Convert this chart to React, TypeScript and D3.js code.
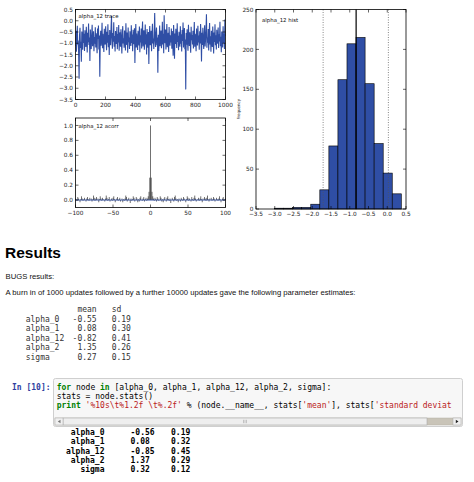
import React from "react";
import * as d3 from "d3";

// alpha_12 posterior samples (every 3rd iteration of 1000)
const traceValues = [
  -1.12, -0.45, -1.38, -0.71, -0.22, -1.05, -0.88, -1.47, -2.58, -0.64,
  -0.31, -1.21, -0.93, -1.82, -0.48, -0.77, -1.29, -0.15, -0.99, -0.58,
  -1.34, -0.42, -0.86, -1.17, -0.27, -0.69, -1.41, -0.53, -0.95, -0.12,
  -1.08, -0.74, -1.79, -0.39, -0.91, -1.26, -0.61, -0.18, -1.13, -0.83,
  -0.47, -1.36, -0.72, -1.02, -0.29, -1.19, -0.56, -0.97, -1.44, -0.34,
  -0.81, -0.21, -1.28, -0.66, -2.49, -0.89, -0.44, -1.11, -0.76, -0.09,
  -1.22, -0.58, -0.94, -1.39, -0.36, -0.84, -1.06, -0.25, -0.71, -1.31,
  -0.49, -0.98, -0.16, -1.18, -0.63, -1.52, -0.41, -0.87, -1.09, -0.32,
  0.21, -0.79, -1.24, -0.55, -0.93, -0.07, -1.15, -0.68, -1.37, -0.46,
  -0.85, -1.03, -0.28, -1.27, -0.59, -0.96, -0.19, -1.33, -0.73, -0.51,
  -1.16, -0.38, -0.9, -1.46, -0.62, -0.24, -1.01, -0.78, -1.2, -0.43,
  -0.67, -1.32, -0.11, -0.88, -1.07, -0.52, -1.42, -0.3, -0.95, -0.74,
  -1.25, -0.47, -0.82, -1.12, -0.2, -0.99, -0.61, -1.35, -0.4, -0.86,
  -1.04, -0.33, -1.88, -0.7, -0.14, -1.19, -0.57, -0.92, -1.3, -0.45,
  -0.8, -1.1, -0.26, -1.4, -0.65, -0.97, -0.35, -1.23, -0.54, -0.03,
  -1.14, -0.76, -0.42, -1.29, -0.89, -0.17, -1.05, -0.6, -1.5, -0.37,
  -0.83, -1.2, -0.5, -1.92, -0.72, -0.23, -1.08, -0.94, -0.44, -1.36,
  -0.66, -0.13, -1.01, -0.79, -1.26, -0.48, 0.34, -0.91, -1.17, -0.56,
  -0.3, -1.09, -0.75, -2.31, -0.62, -1.34, -0.87, -0.21, -1.13, -0.69,
  -0.43, -1.22, -0.96, -0.05, -1.06, -0.58, -1.44, 0.24, -0.85, -1.0,
  -0.39, -1.28, -0.71, -0.15, -1.18, -0.92, -0.53, -1.39, -0.28, -0.81,
  -1.11, -0.64, -0.97, -0.34, -1.24, -0.46, -0.88, -1.55, -0.19, -0.73,
  -1.69, -0.57, -1.03, -0.36, -0.86, -1.21, -0.11, -0.94, -0.67, -1.31,
  -0.49, -0.78, -1.15, -0.25, -1.02, -0.6, -1.37, -0.41, -0.9, -0.08,
  -1.19, -0.7, -0.32, -1.27, -0.83, -3.05, -0.55, -1.07, -0.38, -0.95,
  -1.33, -0.18, -0.76, -1.12, -0.51, -0.99, -1.42, -0.27, -0.87, -0.63,
  -1.05, -0.44, -1.23, -0.72, -0.06, -1.16, -0.58, -0.91, -1.35, -0.35,
  -0.8, -1.1, -0.22, -0.97, -0.66, -1.29, -0.47, -1.01, -0.14, -0.77,
  -1.81, -0.53, -1.08, -0.31, -0.9, -1.25, -0.6, -0.2, -1.14, -0.84,
  -0.42, 0.29, -1.2, -0.74, -0.98, -0.37, -1.32, -0.56, -0.1, -1.06,
  -0.69, -1.38, -0.45, -0.88, -1.17, -0.26, -0.79, -1.46, -0.52, -0.94,
  -0.16, -1.09, -0.65, -1.28, -0.4, -0.85, -1.02, -0.3, -1.21, -0.6,
  -0.92, -0.04, -1.13, -0.71, -1.4, -0.48, -0.82, -1.19, -0.24, -0.99,
  -0.57, -1.26, 0.05, -0.68,
];
const traceStep = 3;

// autocorrelation for lags 1..100 (the plot mirrors them for negative lags)
const acorrLag0 = 1.0;
const acorrLags = [
  0.3, 0.11, 0.05, 0.02, -0.01, 0.03, 0.01, -0.02, 0.04, 0.02,
  -0.01, 0.0, 0.05, 0.03, -0.02, 0.01, -0.03, 0.02, 0.04, 0.0,
  -0.02, 0.03, 0.05, 0.01, -0.01, 0.02, -0.04, 0.0, 0.03, 0.01,
  -0.02, 0.04, 0.06, 0.02, -0.01, 0.01, -0.03, 0.02, 0.0, -0.02,
  0.03, 0.01, -0.01, 0.04, 0.02, 0.0, -0.03, 0.01, 0.05, 0.03,
  -0.01, 0.02, 0.0, -0.02, 0.04, 0.01, -0.01, 0.03, 0.06, 0.02,
  -0.02, 0.0, 0.01, 0.03, -0.01, 0.02, 0.05, 0.01, -0.03, 0.02,
  0.0, 0.04, 0.02, -0.01, 0.03, 0.06, 0.01, -0.02, 0.02, 0.0,
  0.03, -0.01, 0.01, 0.04, 0.02, -0.02, 0.0, 0.03, 0.01, -0.01,
  0.02, 0.05, 0.01, -0.03, 0.0, 0.02, 0.04, -0.01, 0.01, 0.02,
];

// histogram of alpha_12
const histCounts = [1, 1, 2, 2, 6, 24, 79, 162, 207, 215, 157, 82, 45, 19];
const histStart = -3.005;
const histBinWidth = 0.2414;
const posteriorMean = -0.83;
const intervalBounds = [-1.71, 0.03];

// tick values
const traceXTicks = [0, 200, 400, 600, 800, 1000];
const traceYTicks = [0.5, 0, -0.5, -1, -1.5, -2, -2.5, -3, -3.5];
const acorrXTicks = [-100, -50, 0, 50, 100];
const acorrYTicks = [0, 0.2, 0.4, 0.6, 0.8, 1.0];
const histXTicks = [-3.5, -3, -2.5, -2, -1.5, -1, -0.5, 0, 0.5];
const histYTicks = [0, 50, 100, 150, 200, 250];

// BUGS summary table
const bugsNames = ["alpha_0", "alpha_1", "alpha_12", "alpha_2", "sigma"];
const bugsMeans = [-0.55, 0.08, -0.82, 1.35, 0.27];
const bugsSds = [0.19, 0.3, 0.41, 0.26, 0.15];

// PyMC summary output
const pymcNames = ["alpha_0", "alpha_1", "alpha_12", "alpha_2", "sigma"];
const pymcMeans = [-0.56, 0.08, -0.85, 1.37, 0.32];
const pymcSds = [0.19, 0.32, 0.45, 0.29, 0.12];

const TICK_FONT = "DejaVu Sans";
const SANS = "Liberation Sans, Arial, sans-serif";
const MONO = "DejaVu Sans Mono, monospace";
const BLUE = "#2f4ea5";

type Scale = d3.ScaleLinear<number, number>;

function Frame({ x, y, xTicks, yTicks, xFmt, yFmt }: {
  x: Scale; y: Scale; xTicks: number[]; yTicks: number[];
  xFmt: (v: number) => string; yFmt: (v: number) => string;
}) {
  const [x0, x1] = x.range();
  const [y0, y1] = y.range();
  const tl = 3;
  return (
    <g fontFamily={TICK_FONT} fontSize={5.8} fill="#222">
      {xTicks.map((t) => (
        <g key={"x" + t}>
          <line x1={x(t)} x2={x(t)} y1={y0} y2={y0 - tl} stroke="#000" strokeWidth={0.6} />
          <line x1={x(t)} x2={x(t)} y1={y1} y2={y1 + tl} stroke="#000" strokeWidth={0.6} />
          <text x={x(t)} y={y0 + 7.2} textAnchor="middle">{xFmt(t)}</text>
        </g>
      ))}
      {yTicks.map((t) => (
        <g key={"y" + t}>
          <line x1={x0} x2={x0 + tl} y1={y(t)} y2={y(t)} stroke="#000" strokeWidth={0.6} />
          <line x1={x1} x2={x1 - tl} y1={y(t)} y2={y(t)} stroke="#000" strokeWidth={0.6} />
          <text x={x0 - 2.5} y={y(t) + 2.1} textAnchor="end">{yFmt(t)}</text>
        </g>
      ))}
      <rect x={x0} y={y1} width={x1 - x0} height={y0 - y1} fill="none" stroke="#000" strokeWidth={0.8} />
    </g>
  );
}

export default function App() {
  // trace panel
  const tx = d3.scaleLinear().domain([0, 1000]).range([75.5, 225.5]);
  const ty = d3.scaleLinear().domain([-3.5, 0.5]).range([99.5, 9.5]);
  const tracePath = d3
    .line<number>()
    .x((_, i) => tx(i * traceStep))
    .y((d) => ty(d))(traceValues) as string;

  // autocorrelation panel
  const ax = d3.scaleLinear().domain([-100, 100]).range([75.5, 225.5]);
  const ay = d3.scaleLinear().domain([-0.1, 1.1]).range([207.5, 118]);
  const acorrAll = [...acorrLags.slice().reverse(), acorrLag0, ...acorrLags];
  const lags = d3.range(-100, 101);

  // histogram panel
  const hx = d3.scaleLinear().domain([-3.5, 0.5]).range([256, 406]);
  const hy = d3.scaleLinear().domain([0, 250]).range([209, 9.5]);

  const f1 = d3.format(".1f");
  const fd = d3.format("d");

  const rowGap = 9.4;
  const outGap = 9.3;

  return (
    <svg
      width={474}
      height={482}
      style={{ position: "absolute", left: 0, top: 0, background: "#fff" }}
    >
      <defs>
        <clipPath id="traceClip">
          <rect x={75.5} y={9.5} width={150} height={90} />
        </clipPath>
        <clipPath id="codeClip">
          <rect x={54} y={379} width={408} height={38} />
        </clipPath>
      </defs>
      <rect width={474} height={482} fill="#fff" />

      {/* trace */}
      <path d={tracePath} fill="none" stroke={BLUE} strokeWidth={1.1} strokeLinejoin="bevel" clipPath="url(#traceClip)" />
      <Frame x={tx} y={ty} xTicks={traceXTicks} yTicks={traceYTicks} xFmt={fd} yFmt={f1} />
      <text x={78.5} y={18} fontFamily={TICK_FONT} fontSize={5.4} fill="#111">alpha_12 trace</text>

      {/* autocorrelation */}
      {lags.map((l, i) => (
        <line key={l} x1={ax(l)} x2={ax(l)} y1={ay(0)} y2={ay(acorrAll[i])} stroke="#111" strokeWidth={0.6} />
      ))}
      <line x1={ax(-100)} x2={ax(100)} y1={ay(0)} y2={ay(0)} stroke={BLUE} strokeWidth={0.9} />
      <Frame x={ax} y={ay} xTicks={acorrXTicks} yTicks={acorrYTicks} xFmt={fd} yFmt={f1} />
      <text x={78.5} y={127.5} fontFamily={TICK_FONT} fontSize={5.4} fill="#111">alpha_12 acorr</text>

      {/* histogram */}
      {histCounts.map((c, i) => {
        const a = histStart + i * histBinWidth;
        return (
          <rect
            key={i}
            x={hx(a)}
            y={hy(c)}
            width={hx(a + histBinWidth) - hx(a)}
            height={hy(0) - hy(c)}
            fill={BLUE}
            stroke="#000"
            strokeWidth={0.6}
          />
        );
      })}
      {intervalBounds.map((b) => (
        <line key={b} x1={hx(b)} x2={hx(b)} y1={hy(250)} y2={hy(0)} stroke="#555" strokeWidth={0.7} strokeDasharray="1,1.5" />
      ))}
      <line x1={hx(posteriorMean)} x2={hx(posteriorMean)} y1={hy(250)} y2={hy(0)} stroke="#000" strokeWidth={1.2} />
      <Frame x={hx} y={hy} xTicks={histXTicks} yTicks={histYTicks} xFmt={f1} yFmt={fd} />
      <text x={262} y={21.5} fontFamily={TICK_FONT} fontSize={5.4} fill="#111">alpha_12 hist</text>
      <text
        transform={`translate(239.5, ${(hy(0) + hy(250)) / 2}) rotate(-90)`}
        textAnchor="middle"
        fontFamily={TICK_FONT}
        fontSize={4}
        fill="#111"
      >
        Frequency
      </text>

      {/* markdown text */}
      <text x={5} y={258} fontFamily={SANS} fontWeight="bold" fontSize={15.5} fill="#000">Results</text>
      <text x={5.5} y={278.5} fontFamily={SANS} fontSize={7.7} fill="#111">BUGS results:</text>
      <text x={5.5} y={295} fontFamily={SANS} fontSize={7.7} fill="#111">
        A burn in of 1000 updates followed by a further 10000 updates gave the following parameter estimates:
      </text>

      {/* BUGS table */}
      <g fontFamily={MONO} fontSize={8} fill="#333">
        <text x={96.7} y={312} textAnchor="end">mean</text>
        <text x={111.7} y={312}>sd</text>
        {bugsNames.map((n, i) => (
          <g key={n}>
            <text x={25.7} y={322 + i * rowGap}>{n}</text>
            <text x={96.7} y={322 + i * rowGap} textAnchor="end">{bugsMeans[i].toFixed(2)}</text>
            <text x={130.9} y={322 + i * rowGap} textAnchor="end">{bugsSds[i].toFixed(2)}</text>
          </g>
        ))}
      </g>

      {/* code cell */}
      <text x={12} y={390} fontFamily={MONO} fontSize={8} fontWeight="bold" fill="#303f9f">In [10]:</text>
      <rect x={53.5} y={378.5} width={409} height={48} rx={2} fill="#f7f7f7" stroke="#cfcfcf" strokeWidth={1} />
      <g fontFamily={MONO} fontSize={8} fill="#000" clipPath="url(#codeClip)" style={{ whiteSpace: "pre" }}>
        <text x={56.7} y={390}>
          <tspan fill="#008000" fontWeight="bold">for</tspan>
          <tspan>{" node "}</tspan>
          <tspan fill="#008000" fontWeight="bold">in</tspan>
          <tspan>{" [alpha_0, alpha_1, alpha_12, alpha_2, sigma]:"}</tspan>
        </text>
        <text x={56.7} y={399}>{"    stats = node.stats()"}</text>
        <text x={56.7} y={408}>
          <tspan>{"    "}</tspan>
          <tspan fill="#008000" fontWeight="bold">print</tspan>
          <tspan>{" "}</tspan>
          <tspan fill="#ba2121">{"'%10s\\t%1.2f \\t%.2f'"}</tspan>
          <tspan>{" % (node.__name__, stats["}</tspan>
          <tspan fill="#ba2121">{"'mean'"}</tspan>
          <tspan>{"], stats["}</tspan>
          <tspan fill="#ba2121">{"'standard deviat"}</tspan>
        </text>
      </g>

      {/* horizontal scrollbar */}
      <g>
        <rect x={55} y={418} width={406} height={7} fill="#c9c4b8" stroke="#b5b0a5" strokeWidth={0.5} />
        <rect x={63} y={418} width={364} height={7} fill="#eeeeee" stroke="#a8a8a8" strokeWidth={0.6} />
        <rect x={55} y={418} width={8} height={7} fill="#f0f0f0" stroke="#a8a8a8" strokeWidth={0.5} />
        <rect x={453} y={418} width={8} height={7} fill="#f0f0f0" stroke="#a8a8a8" strokeWidth={0.5} />
        <path d="M60.5,419.8 L57.8,421.5 L60.5,423.2 Z" fill="#777" />
        <path d="M455.8,419.8 L458.5,421.5 L455.8,423.2 Z" fill="#222" />
        {[-1.5, 0, 1.5].map((d) => (
          <line key={d} x1={245 + d} x2={245 + d} y1={419.8} y2={423.2} stroke="#999" strokeWidth={0.5} />
        ))}
      </g>

      {/* PyMC output */}
      <g fontFamily={MONO} fontSize={8} fill="#000" fontWeight="bold">
        {pymcNames.map((n, i) => (
          <g key={n}>
            <text x={104.5} y={435 + i * outGap} textAnchor="end">{n}</text>
            <text x={130.5} y={435 + i * outGap}>{pymcMeans[i].toFixed(2)}</text>
            <text x={171} y={435 + i * outGap}>{pymcSds[i].toFixed(2)}</text>
          </g>
        ))}
      </g>
    </svg>
  );
}
